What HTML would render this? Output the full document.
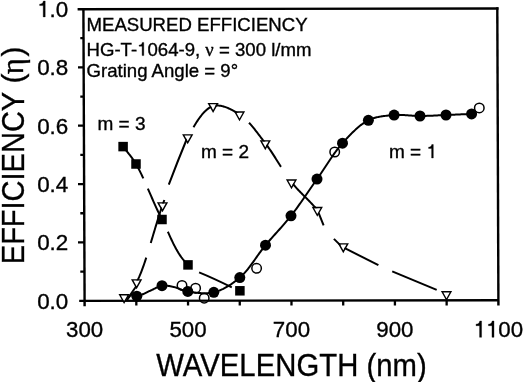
<!DOCTYPE html>
<html><head><meta charset="utf-8"><style>
html,body{margin:0;padding:0;background:#fff;width:525px;height:382px;overflow:hidden}
svg{display:block;filter:grayscale(1)}
.one{fill:none;stroke:none}
</style></head><body>
<svg width="525" height="382" viewBox="0 0 525 382">
<rect width="525" height="382" fill="#fff"/>
<g stroke="#000" stroke-width="2.4" fill="none">
<path d="M77.6,9.21 L498.50,8.50"/>
<path d="M83.40,8.00 L84.62,306.3"/>
<path d="M497.30,7.30 L498.42,305.5"/>
<path d="M79.2,300.91 L498.40,300.20"/>
<path stroke-width="2.3" d="M80.3,38.18 L83.52,38.18 M78.0,67.36 L83.64,67.36 M80.3,96.54 L83.76,96.54 M78.0,125.72 L83.88,125.72 M80.3,154.90 L84.00,154.90 M78.0,184.08 L84.12,184.08 M80.3,213.26 L84.24,213.26 M78.0,242.44 L84.36,242.44 M80.3,271.62 L84.48,271.62 M136.32,300.81 L136.32,305.6 M188.04,300.73 L188.04,305.6 M239.76,300.64 L239.76,305.6 M291.48,300.55 L291.48,305.6 M343.20,300.46 L343.20,305.6 M394.92,300.38 L394.92,305.6 M446.64,300.29 L446.64,305.6"/>
</g>
<g stroke="#000" stroke-width="2.0" fill="none" stroke-linejoin="round">
<path d="M136.60,282.10 L137.24,280.92 L137.88,279.66 L138.52,278.32 L139.17,276.92 L139.81,275.45 L140.45,273.91 L141.09,272.31 L141.74,270.65 L142.38,268.93 L143.02,267.16 L143.67,265.34 L144.31,263.48 L144.95,261.57 L145.60,259.63 L146.24,257.64"/>
<path d="M150.77,242.99 L151.41,240.83 L152.06,238.65 L152.71,236.47 L153.36,234.29 L154.01,232.11 L154.66,229.94 L155.31,227.77 L155.96,225.61 L156.61,223.47 L157.26,221.34 L157.92,219.23 L158.57,217.15 L159.22,215.09 L159.88,213.06 L160.53,211.06 L161.19,209.10 L161.84,207.18 L162.50,205.30 L163.12,203.53 L163.73,201.76 L164.34,199.97"/>
<path d="M193.49,127.14 L194.08,126.15 L194.68,125.17 L195.29,124.20 L195.89,123.24 L196.50,122.29 L197.12,121.35 L197.73,120.42 L198.35,119.51 L198.98,118.62 L199.61,117.75 L200.24,116.89 L200.88,116.06 L201.52,115.25 L202.17,114.46 L202.81,113.69 L203.47,112.95 L204.13,112.24 L204.79,111.56 L205.46,110.90 L206.13,110.28 L206.80,109.69 L207.48,109.14 L208.17,108.62 L208.86,108.13 L209.55,107.69 L210.25,107.28 L210.96,106.91 L211.67,106.59 L212.38,106.30 L213.10,106.07 L213.70,105.90 L214.32,105.77 L214.94,105.66 L215.56,105.58 L216.20,105.53 L216.84,105.50 L217.49,105.50 L218.14,105.52 L218.80,105.57 L219.46,105.63 L220.13,105.72 L220.80,105.83 L221.47,105.97 L222.15,106.12 L222.83,106.29 L223.51,106.48 L224.20,106.68 L224.89,106.90 L225.57,107.14 L226.26,107.39 L226.95,107.66 L227.64,107.94 L228.32,108.24 L229.01,108.54 L229.70,108.86 L230.38,109.19 L231.06,109.52 L231.74,109.87 L232.41,110.22 L233.08,110.58 L233.75,110.95 L234.41,111.32 L235.07,111.70 L235.72,112.09 L236.37,112.47 L237.01,112.86 L237.64,113.25 L238.27,113.65 L238.89,114.04 L239.50,114.43"/>
<path d="M249.04,122.75 L249.69,123.46 L250.33,124.18 L250.98,124.91 L251.62,125.65 L252.25,126.40 L252.89,127.16 L253.52,127.93 L254.15,128.71 L254.77,129.49 L255.40,130.28 L256.02,131.08 L256.65,131.88 L257.27,132.68 L257.89,133.49 L258.50,134.30 L259.12,135.11 L259.74,135.93 L260.36,136.75 L260.97,137.56 L261.59,138.38 L262.21,139.19 L262.82,140.01 L263.44,140.82 L264.06,141.63 L264.68,142.43 L265.30,143.23 L265.98,144.12 L266.66,145.02 L267.33,145.93 L268.00,146.86 L268.67,147.80 L269.33,148.75 L269.99,149.71 L270.65,150.68 L271.30,151.65 L271.95,152.64 L272.60,153.63 L273.25,154.63 L273.89,155.64 L274.54,156.65 L275.18,157.66 L275.82,158.68 L276.46,159.70 L277.10,160.72 L277.74,161.75 L278.38,162.77 L279.02,163.80 L279.66,164.82 L280.30,165.84 L280.94,166.86"/>
<path d="M343.3,247.4 L378.4,265.2"/>
<path d="M333.9,238.9 L340.8,245.6"/>
<path d="M127.6,298.8 L136.4,286"/>
<path d="M168.8,184.6 Q177.5,161.5 187.0,138.5"/>
<path d="M392.2,271.4 L436.7,289.9"/>
<path d="M291.50,182.20 L292.12,182.97 L292.74,183.74 L293.37,184.49 L294.00,185.23 L294.63,185.97 L295.27,186.69 L295.91,187.40 L296.55,188.11 L297.20,188.81 L297.84,189.50 L298.49,190.19 L299.14,190.87 L299.79,191.55 L300.44,192.22 L301.10,192.89 L301.75,193.55 L302.41,194.21 L303.06,194.87 L303.72,195.53 L304.38,196.19 L305.03,196.85 L305.69,197.50 L306.35,198.16 L307.00,198.82 L307.66,199.48 L308.31,200.14 L308.97,200.81 L309.62,201.48 L310.27,202.15 L310.92,202.83 L311.57,203.51 L312.22,204.20 L312.86,204.90 L313.50,205.60 L314.14,206.31 L314.78,207.03 L315.42,207.76 L316.05,208.50 L316.68,209.24 L317.30,210.00"/>
<path d="M318.6,212.8 L323.6,225.4"/>
</g>
<path d="M120.89,295.50 L127.31,295.50 L124.10,301.23 Z" fill="#fff"/>
<path d="M118.50,294.10 L129.70,294.10 L124.10,304.10 Z M120.89,295.50 L124.10,301.23 L127.31,295.50 Z" fill="#000" fill-rule="evenodd"/>
<path d="M133.39,280.60 L139.81,280.60 L136.60,286.33 Z" fill="#fff"/>
<path d="M131.00,279.20 L142.20,279.20 L136.60,289.20 Z M133.39,280.60 L136.60,286.33 L139.81,280.60 Z" fill="#000" fill-rule="evenodd"/>
<path d="M159.29,203.60 L165.71,203.60 L162.50,209.33 Z" fill="#fff"/>
<path d="M156.90,202.20 L168.10,202.20 L162.50,212.20 Z M159.29,203.60 L162.50,209.33 L165.71,203.60 Z" fill="#000" fill-rule="evenodd"/>
<path d="M184.49,135.60 L190.91,135.60 L187.70,141.33 Z" fill="#fff"/>
<path d="M182.10,134.20 L193.30,134.20 L187.70,144.20 Z M184.49,135.60 L187.70,141.33 L190.91,135.60 Z" fill="#000" fill-rule="evenodd"/>
<path d="M209.89,104.30 L216.31,104.30 L213.10,110.03 Z" fill="#fff"/>
<path d="M207.50,102.90 L218.70,102.90 L213.10,112.90 Z M209.89,104.30 L213.10,110.03 L216.31,104.30 Z" fill="#000" fill-rule="evenodd"/>
<path d="M236.29,112.70 L242.71,112.70 L239.50,118.43 Z" fill="#fff"/>
<path d="M233.90,111.30 L245.10,111.30 L239.50,121.30 Z M236.29,112.70 L239.50,118.43 L242.71,112.70 Z" fill="#000" fill-rule="evenodd"/>
<path d="M262.09,141.60 L268.51,141.60 L265.30,147.33 Z" fill="#fff"/>
<path d="M259.70,140.20 L270.90,140.20 L265.30,150.20 Z M262.09,141.60 L265.30,147.33 L268.51,141.60 Z" fill="#000" fill-rule="evenodd"/>
<path d="M288.29,180.70 L294.71,180.70 L291.50,186.43 Z" fill="#fff"/>
<path d="M285.90,179.30 L297.10,179.30 L291.50,189.30 Z M288.29,180.70 L291.50,186.43 L294.71,180.70 Z" fill="#000" fill-rule="evenodd"/>
<path d="M314.09,208.20 L320.51,208.20 L317.30,213.93 Z" fill="#fff"/>
<path d="M311.70,206.80 L322.90,206.80 L317.30,216.80 Z M314.09,208.20 L317.30,213.93 L320.51,208.20 Z" fill="#000" fill-rule="evenodd"/>
<path d="M340.09,244.60 L346.51,244.60 L343.30,250.33 Z" fill="#fff"/>
<path d="M337.70,243.20 L348.90,243.20 L343.30,253.20 Z M340.09,244.60 L343.30,250.33 L346.51,244.60 Z" fill="#000" fill-rule="evenodd"/>
<path d="M443.29,292.40 L449.71,292.40 L446.50,298.13 Z" fill="#fff"/>
<path d="M440.90,291.00 L452.10,291.00 L446.50,301.00 Z M443.29,292.40 L446.50,298.13 L449.71,292.40 Z" fill="#000" fill-rule="evenodd"/>
<g stroke="#000" stroke-width="2.0" fill="none" stroke-linejoin="round">
<path d="M123.10,146.60 L123.42,147.03 L123.74,147.46 L124.06,147.87 L124.38,148.29 L124.70,148.70 L125.02,149.10 L125.33,149.50 L125.65,149.89 L125.97,150.29 L126.28,150.68 L126.60,151.07 L126.91,151.45 L127.22,151.84 L127.54,152.23 L127.85,152.61 L128.17,153.00 L128.48,153.39 L128.80,153.78 L129.11,154.18 L129.43,154.57 L129.75,154.97 L130.07,155.38 L130.38,155.79 L130.70,156.20 L131.02,156.62 L131.34,157.05 L131.67,157.48 L131.99,157.93 L132.31,158.37 L132.64,158.83 L132.97,159.30 L133.30,159.78 L133.63,160.26 L133.96,160.76 L134.30,161.27 L134.63,161.79 L134.97,162.32 L135.31,162.87 L135.65,163.43 L136.00,164.00 L136.59,165.00 L137.18,166.04 L137.77,167.12 L138.37,168.25 L138.98,169.41 L139.59,170.61 L140.20,171.84 L140.82,173.10 L141.44,174.39 L142.07,175.72 L142.70,177.07 L143.33,178.44"/>
<path d="M147.87,188.60 L148.52,190.11 L149.18,191.62 L149.85,193.14 L150.51,194.67 L151.18,196.20 L151.85,197.73 L152.52,199.25 L153.19,200.78 L153.87,202.30 L154.54,203.81 L155.22,205.32 L155.89,206.81 L156.57,208.30 L157.25,209.77 L157.93,211.22 L158.61,212.65 L159.29,214.07 L159.96,215.46 L160.64,216.84 L161.32,218.18 L162.00,219.50"/>
<path d="M167.83,231.72 L168.39,232.95 L168.95,234.17 L169.50,235.40 L170.06,236.61 L170.61,237.83 L171.17,239.04 L171.74,240.24 L172.31,241.44 L172.88,242.63 L173.46,243.82 L174.05,245.00 L174.65,246.16 L175.26,247.32 L175.88,248.47 L176.50,249.61 L177.15,250.73 L177.80,251.85 L178.47,252.95 L179.16,254.03 L179.86,255.11 L180.58,256.17 L181.32,257.21 L182.07,258.23 L182.85,259.24 L183.65,260.23 L184.47,261.21 L185.32,262.16 L186.19,263.09 L187.08,264.01 L188.00,264.90"/>
<path d="M199.1,272.4 Q214,278.5 231.8,287.4"/>
<path d="M126.60,300.60 L126.77,300.40 L126.94,300.18 L127.12,299.96 L127.29,299.73 L127.45,299.50 L127.62,299.26 L127.79,299.02 L127.96,298.77 L128.13,298.52 L128.29,298.27 L128.46,298.03 L128.63,297.78 L128.80,297.53 L128.97,297.29 L129.13,297.05 L129.30,296.82 L129.47,296.59 L129.64,296.37 L129.82,296.15 L129.99,295.95 L130.16,295.75 L130.34,295.57 L130.51,295.40 L130.69,295.24 L130.87,295.09 L131.05,294.96 L131.24,294.84 L131.42,294.74 L131.61,294.66 L131.80,294.60 L131.95,294.56 L132.11,294.55 L132.26,294.54 L132.41,294.55 L132.57,294.57 L132.72,294.61 L132.87,294.65 L133.02,294.71 L133.17,294.77 L133.33,294.84 L133.48,294.92 L133.64,295.00 L133.79,295.09 L133.95,295.17 L134.11,295.27 L134.27,295.36 L134.43,295.45 L134.60,295.55 L134.76,295.64 L134.93,295.72 L135.10,295.81 L135.28,295.89 L135.46,295.96 L135.64,296.02 L135.82,296.08 L136.01,296.13 L136.20,296.16 L136.40,296.19 L136.60,296.20 L136.80,296.20 L137.15,296.17 L137.52,296.13 L137.91,296.06 L138.30,295.97 L138.71,295.86 L139.13,295.74 L139.57,295.60 L140.01,295.44 L140.46,295.27 L140.92,295.09 L141.39,294.90 L141.86,294.69 L142.34,294.48 L142.82,294.26 L143.31,294.03 L143.80,293.80 L144.30,293.56 L144.79,293.32 L145.28,293.07 L145.78,292.83 L146.27,292.59 L146.76,292.34 L147.25,292.10 L147.73,291.87 L148.21,291.64 L148.68,291.41 L149.15,291.20 L149.61,290.99 L150.06,290.79 L150.50,290.60 L150.90,290.43 L151.30,290.25 L151.69,290.07 L152.08,289.89 L152.47,289.70 L152.86,289.50 L153.25,289.31 L153.63,289.11 L154.01,288.92 L154.39,288.72 L154.77,288.52 L155.15,288.32 L155.53,288.13 L155.91,287.93 L156.29,287.74 L156.66,287.56 L157.04,287.37 L157.42,287.20 L157.79,287.03 L158.17,286.86 L158.55,286.70 L158.93,286.55 L159.31,286.41 L159.69,286.28 L160.07,286.15 L160.45,286.04 L160.84,285.94 L161.22,285.84 L161.61,285.77 L162.00,285.70 L162.38,285.65 L162.75,285.61 L163.13,285.57 L163.50,285.55 L163.88,285.53 L164.26,285.53 L164.63,285.53 L165.01,285.54 L165.39,285.55 L165.76,285.58 L166.14,285.60 L166.52,285.64 L166.90,285.68 L167.28,285.73 L167.66,285.78 L168.04,285.83 L168.42,285.89 L168.81,285.96 L169.19,286.02 L169.58,286.09 L169.96,286.17 L170.35,286.24 L170.74,286.32 L171.13,286.40 L171.52,286.48 L171.91,286.57 L172.31,286.65 L172.70,286.73 L173.10,286.82 L173.50,286.90 L173.95,287.00 L174.41,287.11 L174.86,287.23 L175.31,287.36 L175.75,287.50 L176.20,287.64 L176.65,287.79 L177.10,287.95 L177.55,288.11 L178.00,288.27 L178.45,288.44 L178.90,288.62 L179.36,288.79 L179.82,288.97 L180.28,289.15 L180.74,289.32 L181.21,289.50 L181.68,289.68 L182.16,289.85 L182.64,290.02 L183.12,290.19 L183.62,290.35 L184.11,290.51 L184.62,290.66 L185.13,290.80 L185.65,290.94 L186.17,291.07 L186.71,291.19 L187.25,291.30 L187.80,291.40 L188.54,291.53 L189.30,291.66 L190.08,291.79 L190.87,291.91 L191.68,292.04 L192.51,292.17 L193.34,292.30 L194.19,292.42 L195.05,292.53 L195.93,292.65 L196.81,292.75 L197.69,292.85 L198.59,292.94 L199.49,293.02 L200.40,293.09 L201.30,293.15 L202.22,293.20 L203.13,293.23 L204.04,293.25 L204.96,293.26 L205.87,293.25 L206.77,293.22 L207.68,293.18 L208.58,293.11 L209.47,293.03 L210.35,292.93 L211.23,292.81 L212.10,292.66 L212.96,292.49 L213.80,292.30 L214.70,292.07 L215.60,291.82 L216.50,291.54 L217.39,291.24 L218.29,290.92 L219.18,290.59 L220.08,290.23 L220.97,289.85 L221.86,289.45 L222.75,289.04 L223.64,288.60 L224.52,288.15 L225.40,287.68 L226.28,287.20 L227.16,286.70 L228.03,286.18 L228.90,285.65 L229.77,285.11 L230.63,284.55 L231.49,283.97 L232.34,283.39 L233.19,282.79 L234.04,282.18 L234.88,281.55 L235.71,280.92 L236.54,280.28 L237.36,279.62 L238.18,278.96 L238.99,278.28 L239.80,277.60 L240.74,276.77 L241.67,275.91 L242.58,275.01 L243.49,274.08 L244.38,273.12 L245.27,272.13 L246.15,271.12 L247.02,270.08 L247.88,269.01 L248.74,267.93 L249.59,266.83 L250.43,265.71 L251.27,264.58 L252.11,263.44 L252.94,262.29 L253.77,261.13 L254.60,259.96 L255.43,258.79 L256.26,257.62 L257.09,256.45 L257.91,255.28 L258.74,254.11 L259.57,252.96 L260.41,251.81 L261.24,250.67 L262.08,249.54 L262.93,248.43 L263.78,247.33 L264.64,246.26 L265.50,245.20 L266.34,244.19 L267.19,243.19 L268.03,242.20 L268.88,241.22 L269.73,240.24 L270.58,239.27 L271.44,238.30 L272.29,237.34 L273.15,236.38 L274.01,235.42 L274.86,234.47 L275.72,233.52 L276.58,232.56 L277.44,231.61 L278.29,230.66 L279.15,229.71 L280.01,228.75 L280.86,227.79 L281.72,226.83 L282.57,225.86 L283.43,224.89 L284.28,223.92 L285.13,222.93 L285.97,221.94 L286.82,220.94 L287.66,219.93 L288.50,218.92 L289.34,217.89 L290.17,216.85 L291.00,215.80 L291.89,214.66 L292.78,213.51 L293.66,212.34 L294.54,211.17 L295.42,209.98 L296.30,208.79 L297.17,207.59 L298.04,206.38 L298.91,205.16 L299.78,203.94 L300.65,202.71 L301.52,201.48 L302.38,200.24 L303.24,199.00 L304.11,197.75 L304.97,196.51 L305.83,195.25 L306.69,194.00 L307.55,192.75 L308.40,191.50 L309.26,190.25 L310.12,188.99 L310.98,187.74 L311.84,186.50 L312.70,185.25 L313.56,184.01 L314.42,182.78 L315.28,181.55 L316.14,180.32 L317.00,179.10 L317.85,177.89 L318.70,176.67 L319.54,175.45 L320.38,174.21 L321.22,172.97 L322.05,171.72 L322.88,170.47 L323.71,169.22 L324.54,167.96 L325.37,166.71 L326.20,165.45 L327.03,164.20 L327.86,162.95 L328.69,161.70 L329.52,160.46 L330.35,159.22 L331.19,157.99 L332.03,156.77 L332.87,155.56 L333.72,154.36 L334.57,153.17 L335.42,152.00 L336.28,150.84 L337.15,149.69 L338.02,148.56 L338.90,147.45 L339.79,146.36 L340.69,145.28 L341.59,144.23 L342.50,143.20 L343.31,142.30 L344.13,141.39 L344.95,140.49 L345.77,139.59 L346.59,138.69 L347.42,137.79 L348.25,136.90 L349.08,136.02 L349.92,135.14 L350.76,134.28 L351.60,133.42 L352.45,132.57 L353.30,131.73 L354.16,130.91 L355.01,130.10 L355.88,129.30 L356.74,128.52 L357.61,127.76 L358.49,127.01 L359.37,126.28 L360.25,125.58 L361.14,124.89 L362.03,124.23 L362.92,123.59 L363.82,122.97 L364.73,122.38 L365.64,121.82 L366.55,121.28 L367.47,120.78 L368.40,120.30 L369.21,119.91 L370.03,119.54 L370.85,119.20 L371.68,118.87 L372.51,118.57 L373.35,118.28 L374.19,118.02 L375.03,117.77 L375.88,117.54 L376.74,117.32 L377.59,117.12 L378.45,116.94 L379.31,116.77 L380.18,116.61 L381.04,116.46 L381.91,116.32 L382.78,116.20 L383.65,116.08 L384.53,115.97 L385.40,115.87 L386.27,115.78 L387.15,115.69 L388.02,115.61 L388.89,115.53 L389.76,115.45 L390.63,115.38 L391.50,115.31 L392.37,115.24 L393.24,115.17 L394.10,115.10 L394.96,115.04 L395.82,114.99 L396.68,114.95 L397.54,114.93 L398.40,114.92 L399.26,114.92 L400.12,114.93 L400.98,114.96 L401.84,114.98 L402.71,115.02 L403.57,115.07 L404.43,115.12 L405.30,115.17 L406.16,115.23 L407.03,115.29 L407.89,115.35 L408.75,115.42 L409.62,115.49 L410.48,115.55 L411.35,115.62 L412.22,115.68 L413.08,115.74 L413.95,115.79 L414.81,115.84 L415.68,115.89 L416.54,115.93 L417.41,115.96 L418.27,115.98 L419.14,116.00 L420.00,116.00 L420.87,116.00 L421.73,115.99 L422.60,115.98 L423.47,115.96 L424.33,115.94 L425.20,115.92 L426.07,115.90 L426.94,115.87 L427.80,115.84 L428.67,115.81 L429.54,115.78 L430.41,115.74 L431.27,115.70 L432.14,115.67 L433.01,115.63 L433.88,115.58 L434.74,115.54 L435.61,115.50 L436.48,115.46 L437.35,115.41 L438.21,115.37 L439.08,115.32 L439.95,115.28 L440.81,115.24 L441.68,115.20 L442.54,115.15 L443.41,115.11 L444.27,115.07 L445.14,115.04 L446.00,115.00 L446.89,114.96 L447.77,114.93 L448.66,114.89 L449.54,114.85 L450.43,114.82 L451.31,114.78 L452.19,114.74 L453.08,114.70 L453.96,114.67 L454.84,114.63 L455.73,114.59 L456.61,114.55 L457.49,114.51 L458.37,114.48 L459.25,114.44 L460.14,114.40 L461.02,114.36 L461.90,114.32 L462.78,114.28 L463.66,114.24 L464.54,114.21 L465.43,114.17 L466.31,114.13 L467.19,114.09 L468.07,114.05 L468.95,114.01 L469.83,113.98 L470.72,113.94 L471.60,113.90"/>
</g>
<rect x="118.35" y="141.85" width="9.5" height="9.5" fill="#000"/>
<rect x="131.25" y="159.25" width="9.5" height="9.5" fill="#000"/>
<rect x="157.25" y="214.75" width="9.5" height="9.5" fill="#000"/>
<rect x="183.25" y="260.15" width="9.5" height="9.5" fill="#000"/>
<rect x="235.15" y="286.05" width="9.5" height="9.5" fill="#000"/>
<circle cx="136.8" cy="296.2" r="5.5" fill="#000"/>
<circle cx="162" cy="285.7" r="5.5" fill="#000"/>
<circle cx="187.8" cy="291.4" r="5.5" fill="#000"/>
<circle cx="213.8" cy="292.3" r="5.5" fill="#000"/>
<circle cx="239.8" cy="277.6" r="5.5" fill="#000"/>
<circle cx="265.5" cy="245.2" r="5.5" fill="#000"/>
<circle cx="291" cy="215.8" r="5.5" fill="#000"/>
<circle cx="317" cy="179.1" r="5.5" fill="#000"/>
<circle cx="342.5" cy="143.2" r="5.5" fill="#000"/>
<circle cx="368.4" cy="120.3" r="5.5" fill="#000"/>
<circle cx="394.1" cy="115.1" r="5.5" fill="#000"/>
<circle cx="420" cy="116" r="5.5" fill="#000"/>
<circle cx="446" cy="115" r="5.5" fill="#000"/>
<circle cx="471.6" cy="113.9" r="5.5" fill="#000"/>
<circle cx="182" cy="285.4" r="4.75" fill="none" stroke="#000" stroke-width="1.5"/>
<circle cx="195.6" cy="288.2" r="4.75" fill="none" stroke="#000" stroke-width="1.5"/>
<circle cx="204.2" cy="298.2" r="4.75" fill="none" stroke="#000" stroke-width="1.5"/>
<circle cx="256.6" cy="268.3" r="4.75" fill="none" stroke="#000" stroke-width="1.5"/>
<circle cx="334.7" cy="152" r="4.75" fill="none" stroke="#000" stroke-width="1.5"/>
<circle cx="479.3" cy="107.9" r="4.75" fill="none" stroke="#000" stroke-width="1.5"/>
<g font-family="Liberation Sans" fill="#000" stroke="#000" stroke-width="0.35">
<text x="68.3" y="16.9" font-size="22.4" text-anchor="end"><tspan class="one">1</tspan>.0</text>
<text x="68.3" y="75.3" font-size="22.4" text-anchor="end">0.8</text>
<text x="68.3" y="133.6" font-size="22.4" text-anchor="end">0.6</text>
<text x="68.3" y="192.0" font-size="22.4" text-anchor="end">0.4</text>
<text x="68.3" y="250.3" font-size="22.4" text-anchor="end">0.2</text>
<text x="68.3" y="308.7" font-size="22.4" text-anchor="end">0.0</text>
<text transform="scale(0.97,1)" x="87.22" y="337.3" font-size="23" text-anchor="middle">300</text>
<text transform="scale(0.97,1)" x="193.86" y="337.3" font-size="23" text-anchor="middle">500</text>
<text transform="scale(0.97,1)" x="300.49" y="337.3" font-size="23" text-anchor="middle">700</text>
<text transform="scale(0.97,1)" x="407.13" y="337.3" font-size="23" text-anchor="middle">900</text>
<text transform="scale(0.97,1)" x="513.77" y="337.3" font-size="23" text-anchor="middle"><tspan class="one">1</tspan><tspan class="one">1</tspan>00</text>
<text transform="scale(0.93,1)" x="168.06" y="376.2" font-size="31.5" textLength="290.86" lengthAdjust="spacing">WAVELENGTH (nm)</text>
<text transform="translate(24,264.2) rotate(-90)" font-size="30.5" textLength="172.4" lengthAdjust="spacingAndGlyphs">EFFICIENCY</text>
<text transform="translate(22.6,83.6) rotate(-90)" font-size="30">(</text>
<text transform="translate(23,74.2) rotate(-90)" font-size="30.5" font-family="Liberation Serif">η</text>
<text transform="translate(22.6,56.4) rotate(-90)" font-size="30">)</text>
<text x="86.5" y="30.8" font-size="18.6">MEASURED EFFICIENCY</text>
<text x="86.5" y="55.6" font-size="18.6">HG-T-<tspan class="one">1</tspan>064-9, <tspan font-family="Liberation Serif">ν</tspan> = 300 l/mm</text>
<text x="86.5" y="77.4" font-size="18.6">Grating Angle = 9°</text>
<text x="97.5" y="130" font-size="19">m = 3</text>
<text x="201" y="158.2" font-size="19">m = 2</text>
<text x="389" y="158" font-size="19">m = <tspan class="one">1</tspan></text>
</g>
<g transform="matrix(1.00000,0.00000,0.00000,1.00000,0.00000,0.00000)"><path d="M359 0L270 0L270 505L110 505L110 570C200 575 255 600 280 709L359 709Z" transform="translate(37.16,16.90) scale(0.02240,-0.02240)" fill="#000" stroke="#000" stroke-width="15.6"/></g>
<g transform="matrix(0.97000,0.00000,0.00000,1.00000,0.00000,0.00000)"><path d="M359 0L270 0L270 505L110 505L110 570C200 575 255 600 280 709L359 709Z" transform="translate(488.20,337.30) scale(0.02300,-0.02300)" fill="#000" stroke="#000" stroke-width="15.2"/></g>
<g transform="matrix(0.97000,0.00000,0.00000,1.00000,0.00000,0.00000)"><path d="M359 0L270 0L270 505L110 505L110 570C200 575 255 600 280 709L359 709Z" transform="translate(500.99,337.30) scale(0.02300,-0.02300)" fill="#000" stroke="#000" stroke-width="15.2"/></g>
<g transform="matrix(1.00000,0.00000,0.00000,1.00000,0.00000,0.00000)"><path d="M359 0L270 0L270 505L110 505L110 570C200 575 255 600 280 709L359 709Z" transform="translate(137.11,55.60) scale(0.01860,-0.01860)" fill="#000" stroke="#000" stroke-width="18.8"/></g>
<g transform="matrix(1.00000,0.00000,0.00000,1.00000,0.00000,0.00000)"><path d="M359 0L270 0L270 505L110 505L110 570C200 575 255 600 280 709L359 709Z" transform="translate(426.48,158.00) scale(0.01900,-0.01900)" fill="#000" stroke="#000" stroke-width="18.4"/></g>
</svg>
</body></html>
